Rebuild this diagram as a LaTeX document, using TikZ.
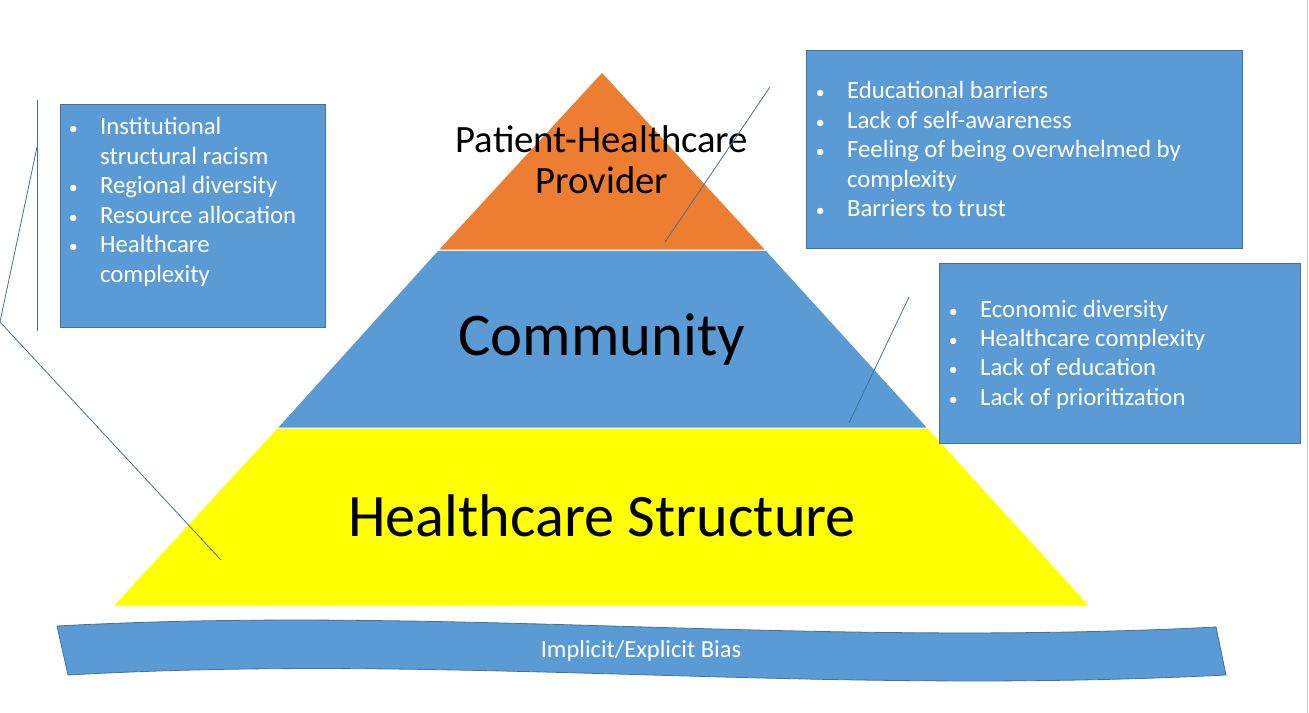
\documentclass[tikz,border=0pt]{standalone}
\usepackage{fontspec}
\setmainfont{Carlito}
\usetikzlibrary{positioning}
\definecolor{tierblue}{HTML}{5B9BD5}
\definecolor{tierorange}{HTML}{ED7D31}
\definecolor{tieryellow}{HTML}{FFFF00}
\definecolor{edgeblue}{HTML}{41719C}
\tikzset{tier/.style={draw=white,line width=0.75pt},
         info box/.style={rectangle,fill=tierblue,draw=edgeblue,line width=0.6pt,inner sep=0pt,anchor=north west},
         info text/.style={text=white,anchor=base west,inner sep=0pt,font=\fontsize{18.6}{22.1}\selectfont},
         tier label/.style={anchor=base,inner sep=0pt,align=center},
         callout/.style={draw=edgeblue,line width=0.6pt},
            }
\newcommand{\bulletlist}[1]{\begin{tabular}[t]{@{}p{23.5pt}@{}l@{}}#1\end{tabular}}
\newcommand{\itm}{\scalebox{0.72}{\textbullet} &}

\begin{document}
\begin{tikzpicture}[x=0.75pt,y=-0.75pt]
    \useasboundingbox (0,0) rectangle (1309,713);
    \draw[gray!45,line width=0.8pt] (1307.5,0) -- (1307.5,713);

    % bias banner
    \path[fill=tierblue,draw=edgeblue,line width=0.6pt]
    (57,626) .. controls (450,605) and (800,648) .. (1216,627)
    -- (1226,675) .. controls (810,696) and (460,653) .. (68,675) -- cycle;
    \node[text=white,inner sep=0pt,anchor=base,font=\fontsize{18.4}{20}\selectfont] (bias) at (641,657) {Implicit/Explicit Bias};

    % pyramid
    \path[tier,fill=tieryellow] (277,428) -- (928,428) -- (1090,606) -- (113,606) -- cycle;
    \path[tier,fill=tierblue] (438,250) -- (766,250) -- (928,428) -- (277,428) -- cycle;
    \path[tier,fill=tierorange] (602,72) -- (766,250) -- (438,250) -- cycle;

    \node[tier label,font=\fontsize{29}{30.75}\selectfont] (provider) at (602,193) {Patient-Healthcare\\Provider};
    \node[tier label,font=\fontsize{45.5}{48}\selectfont] (community) at (602,355) {Community};
    \node[tier label,font=\fontsize{45.2}{48}\selectfont] (structure) at (602,536) {Healthcare Structure};

    % boxes
    \node[info box,minimum width=199pt,minimum height=167pt] (structbox) at (60,104) {};
    \node[info box,minimum width=327pt,minimum height=148.5pt] (providerbox) at (806,50) {};
    \node[info box,minimum width=271pt,minimum height=135pt] (communitybox) at (939,263) {};

    \node[info text] (structlist) at (68.5,135) {\bulletlist{
        \itm Institutional\\ & structural racism\\
        \itm Regional diversity\\
        \itm Resource allocation\\
        \itm Healthcare\\ & complexity}};
    \node[info text] (providerlist) at (815.5,99) {\bulletlist{
        \itm Educational barriers\\
        \itm Lack of self-awareness\\
        \itm Feeling of being overwhelmed by\\ & complexity\\
        \itm Barriers to trust}};
    \node[info text] (communitylist) at (948.5,317) {\bulletlist{
        \itm Economic diversity\\
        \itm Healthcare complexity\\
        \itm Lack of education\\
        \itm Lack of prioritization}};

    % callout lines
    \coordinate (s1) at (37,100);
    \coordinate (s2) at (37,331);
    \coordinate (s3) at (37,147);
    \coordinate (s4) at (0,322);
    \coordinate (s5) at (221,560);
    \coordinate (p1) at (770,87);
    \coordinate (p2) at (665,242);
    \coordinate (c1) at (909,297);
    \coordinate (c2) at (849,423);
    \path[callout] (s1) -- (s2);
    \path[callout] (s3) -- (s4) -- (s5);
    \path[callout] (p1) -- (p2);
    \path[callout] (c1) -- (c2);
\end{tikzpicture}
\end{document}
